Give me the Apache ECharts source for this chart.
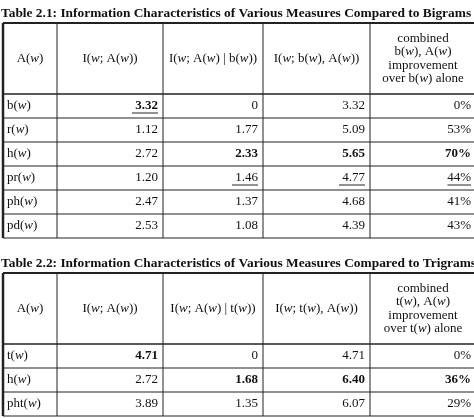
<!DOCTYPE html>
<html>
<head>
<meta charset="utf-8">
<script src="https://cdn.jsdelivr.net/npm/echarts@6/dist/echarts.min.js"></script>
<style>html,body{margin:0;padding:0;background:#fff}#main{width:474px;height:418px}</style>
</head>
<body>
<div id="main"></div>
<script>
// table 2.1
const title1 = 'Table 2.1: Information Characteristics of Various Measures Compared to Bigrams';
const header1 = ['A(w)', 'I(w; A(w))', 'I(w; A(w) | b(w))', 'I(w; b(w), A(w))', 'combined\nb(w), A(w)\nimprovement\nover b(w) alone'];
const rows1 = ['b(w)', 'r(w)', 'h(w)', 'pr(w)', 'ph(w)', 'pd(w)'];
const values1 = [
  ['3.32', '0', '3.32', '0%'],
  ['1.12', '1.77', '5.09', '53%'],
  ['2.72', '2.33', '5.65', '70%'],
  ['1.20', '1.46', '4.77', '44%'],
  ['2.47', '1.37', '4.68', '41%'],
  ['2.53', '1.08', '4.39', '43%']
];
// b = bold, u = underline
const marks1 = [
  ['bu', '', '', ''],
  ['', '', '', ''],
  ['', 'b', 'b', 'b'],
  ['', 'u', 'u', 'u'],
  ['', '', '', ''],
  ['', '', '', '']
];

// table 2.2
const title2 = 'Table 2.2: Information Characteristics of Various Measures Compared to Trigrams';
const header2 = ['A(w)', 'I(w; A(w))', 'I(w; A(w) | t(w))', 'I(w; t(w), A(w))', 'combined\nt(w), A(w)\nimprovement\nover t(w) alone'];
const rows2 = ['t(w)', 'h(w)', 'pht(w)'];
const values2 = [
  ['4.71', '0', '4.71', '0%'],
  ['2.72', '1.68', '6.40', '36%'],
  ['3.89', '1.35', '6.07', '29%']
];
const marks2 = [
  ['b', '', '', ''],
  ['', 'b', 'b', 'b'],
  ['', '', '', '']
];

const colX = [3, 57, 163, 263, 370, 476];
const FONT = '"Liberation Serif", "DejaVu Serif", serif';
const rowH = 24;

// italicise the variable w
function rich(s) {
  return s.split('\n').map(line =>
    line.split(/\b(w)\b/).map((p, i) => p === '' ? '' : (i % 2 ? '{i|' + p + '}' : '{n|' + p + '}')).join('')
  ).join('\n');
}
const richStyles = {
  n: { fontFamily: FONT, fontSize: 13, fill: '#111', lineHeight: 13.5 },
  i: { fontFamily: FONT, fontSize: 13, fill: '#111', fontStyle: 'italic', lineHeight: 13.5 }
};

function buildTable(title, header, rows, values, marks, top, headH) {
  const els = [];
  els.push({ type: 'text', x: 1, y: top - 16, style: { text: title, font: 'bold 13.4px ' + FONT, fill: '#111' } });
  const bottom = top + headH + rows.length * rowH;
  const line = (x1, y1, x2, y2, w) => els.push({ type: 'line', shape: { x1, y1, x2, y2 }, style: { stroke: '#222', lineWidth: w || 1 } });
  line(colX[0], top, 476, top, 2);
  line(colX[0], top + headH, 476, top + headH, 1.5);
  rows.forEach((r, i) => line(colX[0], top + headH + (i + 1) * rowH, 476, top + headH + (i + 1) * rowH, 1));
  colX.slice(0, 5).forEach((x, i) => line(x, top, x, bottom, i === 0 ? 2.5 : 1));
  header.forEach((h, c) => {
    els.push({ type: 'text', x: (colX[c] + colX[c + 1]) / 2, y: top + headH / 2,
      style: { text: rich(h), rich: richStyles, align: 'center', verticalAlign: 'middle' } });
  });
  rows.forEach((r, i) => {
    const cy = top + headH + i * rowH + rowH / 2;
    els.push({ type: 'text', x: colX[0] + 4, y: cy, style: { text: rich(r), rich: richStyles, verticalAlign: 'middle' } });
    values[i].forEach((v, c) => {
      const m = marks[i][c];
      const xr = colX[c + 2] - 5;
      els.push({ type: 'text', x: xr, y: cy,
        style: { text: v, font: (m.includes('b') ? 'bold ' : '') + '13px ' + FONT, fill: '#111', align: 'right', verticalAlign: 'middle' } });
      if (m.includes('u')) {
        const tw = v.length * 6.5 + (v.includes('%') ? 4 : 0);
        line(xr - tw, cy + 7, xr, cy + 7, 1);
      }
    });
  });
  return els;
}

const chart = echarts.init(document.getElementById('main'));
chart.setOption({
  graphic: [
    ...buildTable(title1, header1, rows1, values1, marks1, 23, 71),
    ...buildTable(title2, header2, rows2, values2, marks2, 273, 71)
  ]
});
</script>
</body>
</html>
